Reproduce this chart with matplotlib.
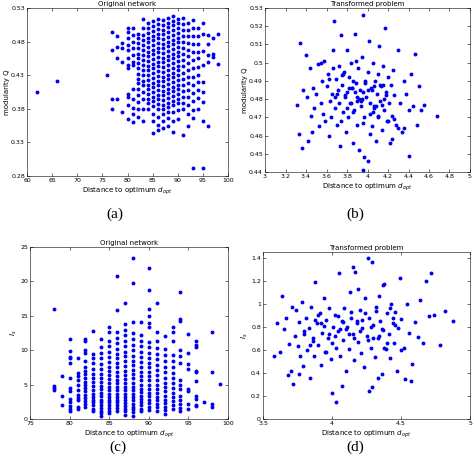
import matplotlib.pyplot as plt

# ---- panel (a): original network, modularity Q vs distance (columns of integer x)
a_x = [62, 66, 76, 77, 77, 77, 77, 78, 78, 78, 78, 79, 79, 79, 79, 95, 95, 96, 96, 97, 97, 97, 98, 98, 93, 95]
a_y = [0.405, 0.422, 0.430, 0.495, 0.468, 0.394, 0.379, 0.488, 0.472, 0.455, 0.395,
       0.478, 0.470, 0.450, 0.375, 0.508, 0.491, 0.490, 0.477, 0.485, 0.462, 0.457, 0.491, 0.446, 0.292, 0.292]
a_cols = {
    80: [0.500, 0.495, 0.485, 0.475, 0.468, 0.455, 0.445, 0.440, 0.402, 0.398, 0.385, 0.365],
    81: [0.500, 0.490, 0.480, 0.470, 0.460, 0.450, 0.445, 0.410, 0.395, 0.381, 0.372, 0.360],
    82: [0.492, 0.485, 0.478, 0.470, 0.462, 0.455, 0.448, 0.440, 0.432, 0.425, 0.418, 0.410, 0.400, 0.390, 0.380, 0.368],
    83: [0.514, 0.500, 0.490, 0.482, 0.475, 0.468, 0.460, 0.452, 0.445, 0.437, 0.430, 0.422, 0.415, 0.405, 0.395, 0.380, 0.362],
    84: [0.508, 0.500, 0.493, 0.486, 0.479, 0.472, 0.465, 0.458, 0.451, 0.444, 0.437, 0.430, 0.423, 0.416, 0.409, 0.402, 0.395, 0.388, 0.380],
    85: [0.510, 0.503, 0.496, 0.489, 0.482, 0.475, 0.468, 0.461, 0.454, 0.447, 0.440, 0.433, 0.426, 0.419, 0.412, 0.405, 0.398, 0.391, 0.384, 0.372, 0.362, 0.344],
    86: [0.513, 0.506, 0.499, 0.492, 0.485, 0.478, 0.471, 0.464, 0.457, 0.450, 0.443, 0.436, 0.429, 0.422, 0.415, 0.408, 0.401, 0.394, 0.387, 0.380, 0.368, 0.356, 0.349],
    87: [0.512, 0.505, 0.498, 0.491, 0.484, 0.477, 0.470, 0.463, 0.456, 0.449, 0.442, 0.435, 0.428, 0.421, 0.414, 0.407, 0.400, 0.393, 0.386, 0.379, 0.372, 0.362, 0.352],
    88: [0.515, 0.508, 0.501, 0.494, 0.487, 0.480, 0.473, 0.466, 0.459, 0.452, 0.445, 0.438, 0.431, 0.424, 0.417, 0.410, 0.403, 0.396, 0.389, 0.382, 0.375, 0.366, 0.355],
    89: [0.518, 0.511, 0.504, 0.497, 0.490, 0.483, 0.476, 0.469, 0.462, 0.455, 0.448, 0.441, 0.434, 0.427, 0.420, 0.413, 0.406, 0.399, 0.392, 0.385, 0.375, 0.362, 0.346],
    90: [0.514, 0.507, 0.500, 0.493, 0.486, 0.479, 0.472, 0.465, 0.458, 0.451, 0.444, 0.437, 0.430, 0.423, 0.416, 0.409, 0.402, 0.395, 0.388, 0.378, 0.365],
    91: [0.515, 0.506, 0.497, 0.488, 0.479, 0.470, 0.461, 0.452, 0.443, 0.434, 0.425, 0.416, 0.407, 0.398, 0.389, 0.380, 0.341],
    92: [0.508, 0.498, 0.488, 0.478, 0.468, 0.458, 0.448, 0.438, 0.428, 0.418, 0.408, 0.398, 0.386, 0.372, 0.355],
    93: [0.512, 0.500, 0.488, 0.476, 0.464, 0.452, 0.440, 0.428, 0.416, 0.404, 0.392, 0.378, 0.366],
    94: [0.500, 0.488, 0.476, 0.465, 0.455, 0.442, 0.430, 0.420, 0.408, 0.396, 0.380],
    95: [0.466, 0.445, 0.420, 0.405, 0.390, 0.362],
    96: [0.460, 0.450, 0.355],
}

# ---- panel (b): transformed problem, modularity Q vs distance
b_x = [3.31, 3.33, 3.34, 3.36, 3.37, 3.40, 3.41, 3.42, 3.44, 3.45, 3.46, 3.47, 3.48, 3.50, 3.52, 3.53, 3.55, 3.55, 3.56, 3.57,
       3.58, 3.59, 3.60, 3.61, 3.62, 3.63, 3.64, 3.65, 3.66, 3.67, 3.68, 3.69, 3.70, 3.71, 3.72, 3.73, 3.74, 3.75, 3.76, 3.77,
       3.78, 3.79, 3.80, 3.80, 3.81, 3.82, 3.83, 3.84, 3.85, 3.86, 3.87, 3.88, 3.89, 3.90, 3.90, 3.91, 3.92, 3.93, 3.94, 3.95,
       3.96, 3.97, 3.98, 3.99, 4.00, 4.00, 4.01, 4.02, 4.03, 4.04, 4.05, 4.06, 4.07, 4.08, 4.09, 4.10, 4.10, 4.11, 4.12, 4.13,
       4.14, 4.15, 4.16, 4.17, 4.18, 4.19, 4.20, 4.21, 4.22, 4.23, 4.24, 4.25, 4.26, 4.28, 4.30, 4.32, 4.34, 4.36, 4.38, 4.40,
       4.42, 4.44, 4.46, 4.48, 4.50, 4.52, 4.55, 4.68, 3.75, 3.85, 3.95, 4.05, 4.15, 3.72, 3.88, 3.98, 4.08, 4.18, 3.82, 3.92,
       4.02, 4.12, 3.78, 3.86, 3.94, 4.04, 4.14, 3.68, 3.76, 3.84, 3.96, 4.06, 4.16, 4.26, 3.62, 3.70, 3.80, 3.90, 4.00, 4.10,
       4.20, 4.30, 3.66, 3.74, 3.86, 3.96, 4.06, 4.24, 4.36, 3.96, 3.97, 4.40, 4.02, 3.89]
b_y = [0.477, 0.461, 0.511, 0.453, 0.485, 0.504, 0.481, 0.457, 0.497, 0.471, 0.462, 0.486, 0.475, 0.483, 0.499, 0.465, 0.500, 0.478,
       0.490, 0.472, 0.501, 0.468, 0.487, 0.494, 0.460, 0.479, 0.470, 0.483, 0.507, 0.523, 0.475, 0.491, 0.466, 0.485, 0.498, 0.454,
       0.515, 0.488, 0.473, 0.495, 0.481, 0.462, 0.507, 0.484, 0.470, 0.492, 0.478, 0.500, 0.486, 0.456, 0.474, 0.516, 0.489, 0.481,
       0.466, 0.497, 0.452, 0.485, 0.476, 0.503, 0.526, 0.470, 0.489, 0.481, 0.495, 0.446, 0.512, 0.478, 0.486, 0.465, 0.500, 0.475,
       0.490, 0.457, 0.483, 0.494, 0.470, 0.509, 0.479, 0.487, 0.463, 0.498, 0.474, 0.519, 0.484, 0.468, 0.492, 0.478, 0.456, 0.488,
       0.471, 0.496, 0.482, 0.466, 0.507, 0.478, 0.462, 0.490, 0.483, 0.474, 0.494, 0.476, 0.505, 0.466, 0.487, 0.474, 0.477, 0.471,
       0.493, 0.486, 0.480, 0.473, 0.488, 0.478, 0.484, 0.490, 0.476, 0.482, 0.486, 0.480, 0.472, 0.488, 0.482, 0.490, 0.479, 0.485,
       0.477, 0.481, 0.494, 0.478, 0.484, 0.476, 0.480, 0.469, 0.491, 0.483, 0.475, 0.479, 0.485, 0.471, 0.468, 0.464, 0.497, 0.468,
       0.473, 0.467, 0.487, 0.458, 0.464, 0.441, 0.448, 0.449, 0.461, 0.501]

# ---- panel (c): original network, I_s vs distance (columns of integer x)
c_cols = {
    78: [16.0, 4.8, 4.5, 4.2],
    79: [6.2, 3.4, 2.0],
    80: [11.7, 9.9, 9.0, 8.8, 8.2, 5.9, 4.5, 4.0, 2.9, 2.4, 1.9, 1.4, 1.1],
    81: [8.9, 6.7, 6.3, 5.7, 5.0, 4.2, 3.5, 3.1, 2.8, 1.7, 1.5],
    82: [11.6, 11.3, 10.1, 9.6, 8.4, 7.6, 7.0, 6.5, 6.0, 5.4, 4.9, 4.5, 4.0, 3.5, 3.0, 2.6, 2.2, 1.8],
    83: [12.8, 9.4, 8.9, 8.1, 7.3, 6.6, 6.0, 5.4, 4.8, 4.2, 3.7, 3.2, 2.8, 2.4, 2.0, 1.5, 1.2],
    84: [11.7, 10.4, 9.6, 8.8, 8.0, 7.3, 6.6, 6.0, 5.4, 4.8, 4.3, 3.8, 3.3, 2.8, 2.4, 2.0, 1.6, 1.2, 0.8, 0.5],
    85: [13.4, 12.7, 11.3, 10.6, 9.8, 9.0, 8.3, 7.6, 7.0, 6.4, 5.8, 5.2, 4.7, 4.2, 3.7, 3.2, 2.8, 2.4, 2.0, 1.6, 1.2, 0.8],
    86: [20.8, 15.8, 12.6, 11.8, 11.0, 10.2, 9.5, 8.8, 8.1, 7.5, 6.9, 6.3, 5.7, 5.2, 4.7, 4.2, 3.7, 3.2, 2.8, 2.4, 2.0, 1.6, 1.2],
    87: [16.8, 13.8, 13.0, 12.2, 11.4, 10.6, 9.8, 9.1, 8.4, 7.7, 7.0, 6.4, 5.8, 5.2, 4.7, 4.2, 3.7, 3.2, 2.7, 2.3, 1.9, 1.5, 1.1, 0.6],
    88: [23.4, 19.7, 14.1, 12.5, 11.6, 10.8, 10.0, 9.2, 8.5, 7.8, 7.1, 6.5, 5.9, 5.3, 4.7, 4.2, 3.7, 3.2, 2.7, 2.2, 1.8, 1.4, 1.0, 0.4],
    89: [14.1, 12.2, 11.4, 10.6, 9.8, 9.0, 8.3, 7.6, 6.9, 6.2, 5.6, 5.0, 4.4, 3.9, 3.4, 2.9, 2.4, 2.0, 1.5, 1.1],
    90: [22.0, 18.8, 16.0, 14.9, 14.0, 13.4, 11.2, 10.4, 9.6, 8.9, 8.2, 7.5, 6.8, 6.2, 5.6, 5.0, 4.4, 3.8, 3.3, 2.8, 2.3, 1.8, 1.3],
    91: [16.8, 12.6, 11.3, 10.3, 9.5, 8.7, 7.9, 7.1, 6.4, 5.7, 5.0, 4.4, 3.8, 3.2, 2.7, 2.2, 1.7, 1.2],
    92: [12.0, 10.2, 9.3, 8.4, 7.6, 6.8, 6.0, 5.3, 4.6, 4.0, 3.4, 2.8, 2.3, 1.8, 1.3, 0.7],
    93: [13.3, 12.7, 11.4, 9.3, 8.4, 7.5, 6.7, 5.9, 5.2, 4.5, 3.8, 3.2, 2.6, 2.1, 1.5],
    94: [18.4, 14.6, 14.3, 10.1, 9.2, 8.2, 5.6, 4.9, 4.3, 3.4, 2.8, 2.2, 1.6, 1.2],
    95: [12.4, 9.6, 8.0, 7.2, 4.3, 4.1, 2.2, 1.5],
    96: [11.4, 10.8, 10.4, 7.0, 6.9, 5.5, 3.3, 2.9, 2.0, 1.9],
    97: [2.5],
    98: [12.6, 6.8, 2.2, 1.8],
    99: [5.1],
}

# ---- panel (d): transformed problem, I_s vs distance
d_x = [3.58, 3.60, 3.62, 3.64, 3.65, 3.67, 3.68, 3.69, 3.70, 3.71, 3.72, 3.73, 3.74, 3.75, 3.76, 3.77, 3.78, 3.79, 3.80, 3.81,
       3.82, 3.83, 3.84, 3.85, 3.86, 3.87, 3.88, 3.89, 3.90, 3.91, 3.92, 3.93, 3.94, 3.95, 3.96, 3.97, 3.98, 3.99, 4.00, 4.01,
       4.02, 4.03, 4.04, 4.05, 4.06, 4.07, 4.08, 4.09, 4.10, 4.11, 4.12, 4.13, 4.14, 4.15, 4.16, 4.17, 4.18, 4.19, 4.20, 4.21,
       4.22, 4.23, 4.24, 4.25, 4.26, 4.27, 4.28, 4.29, 4.30, 4.31, 4.32, 4.33, 4.34, 4.35, 4.36, 4.37, 4.38, 4.39, 4.40, 4.41,
       4.42, 4.43, 4.44, 4.45, 4.46, 4.47, 4.48, 4.49, 4.50, 4.52, 4.54, 4.56, 4.58, 4.60, 4.62, 4.64, 4.66, 4.68, 4.70, 4.72,
       4.74, 4.78, 4.82, 4.88, 3.80, 3.86, 3.92, 3.98, 4.04, 4.10, 4.16, 4.22, 4.28, 4.34, 4.40, 4.46, 3.84, 3.90, 3.96, 4.02,
       4.08, 4.14, 4.20, 4.26, 4.32, 4.38, 4.44, 4.50, 3.88, 3.94, 4.00, 4.06, 4.12, 4.18, 4.24, 4.30, 4.36, 4.42, 3.76, 4.03,
       4.07, 4.27, 4.29, 4.15, 4.19, 4.33, 4.37, 4.53, 4.57]
d_y = [0.55, 0.83, 0.58, 1.07, 0.78, 0.88, 0.38, 0.65, 0.42, 0.97, 0.30, 0.72, 0.95, 0.63, 0.84, 0.55, 1.02, 0.46, 0.74, 0.88,
       0.60, 0.79, 0.36, 0.97, 0.70, 0.55, 1.19, 0.83, 0.64, 0.92, 0.47, 0.75, 1.05, 0.58, 0.86, 0.70, 0.96, 0.52, 0.23, 0.80,
       0.90, 0.62, 0.76, 1.27, 0.55, 0.85, 0.69, 0.96, 0.42, 0.80, 0.61, 1.10, 0.88, 0.74, 0.51, 1.28, 0.83, 0.67, 0.95, 0.57,
       0.79, 0.45, 1.05, 0.72, 1.40, 0.88, 0.62, 1.36, 0.82, 0.54, 0.97, 0.70, 1.07, 0.85, 0.39, 0.77, 1.17, 0.61, 0.92, 0.74,
       0.53, 1.00, 0.83, 0.66, 0.93, 0.42, 0.79, 1.22, 0.87, 0.62, 1.00, 0.75, 0.48, 0.84, 0.71, 1.03, 0.66, 1.20, 0.89, 1.27,
       0.90, 0.64, 0.94, 0.85, 0.76, 0.68, 0.83, 0.74, 0.89, 0.78, 0.70, 0.86, 0.80, 0.72, 0.66, 0.82, 0.64, 0.90, 0.58, 0.72,
       0.84, 0.93, 0.76, 0.69, 0.94, 0.62, 0.88, 0.60, 0.86, 0.81, 0.66, 0.78, 0.74, 0.85, 0.92, 0.70, 0.78, 0.96, 0.39, 0.15,
       0.29, 0.24, 0.28, 1.32, 1.13, 0.36, 1.16, 0.35, 0.33]


def expand(cols):
    xs, ys = [], []
    for k, vals in cols.items():
        xs += [k] * len(vals)
        ys += vals
    return xs, ys


plt.rcParams['font.family'] = 'DejaVu Sans'
plt.rcParams['font.size'] = 4.5
fig = plt.figure(figsize=(4.74, 4.68), dpi=100)


def setup(ax, title, ylabel):
    ax.set_title(title, fontsize=5, pad=1.5)
    ax.set_xlabel('Distance to optimum $d_{opt}$', fontsize=5, labelpad=1.5)
    ax.set_ylabel(ylabel, fontsize=5, labelpad=1)
    ax.tick_params(direction='in', length=2, width=0.4, pad=1.5, labelsize=4.5, top=True, right=True)
    for s in ax.spines.values():
        s.set_linewidth(0.4)


ms = 2.8
col = '#0000ee'

ax1 = fig.add_axes([27 / 474, 1 - 176 / 468, 201 / 474, 168 / 468])
x, y = expand(a_cols)
ax1.plot(x + a_x, y + a_y, 'o', color=col, ms=ms, mew=0)
ax1.set_xlim(60, 100)
ax1.set_ylim(0.28, 0.53)
ax1.set_yticks([0.28, 0.33, 0.38, 0.43, 0.48, 0.53])
setup(ax1, 'Original network', 'modularity Q')

ax2 = fig.add_axes([265 / 474, 1 - 172 / 468, 205 / 474, 164 / 468])
ax2.plot(b_x, b_y, 'o', color=col, ms=ms, mew=0)
ax2.set_xlim(3, 5)
ax2.set_ylim(0.44, 0.53)
ax2.set_xticks([3, 3.2, 3.4, 3.6, 3.8, 4, 4.2, 4.4, 4.6, 4.8, 5])
ax2.set_xticklabels(['3', '3.2', '3.4', '3.6', '3.8', '4', '4.2', '4.4', '4.6', '4.8', '5'])
ax2.set_yticks([0.44, 0.45, 0.46, 0.47, 0.48, 0.49, 0.5, 0.51, 0.52, 0.53])
ax2.set_yticklabels(['0.44', '0.45', '0.46', '0.47', '0.48', '0.49', '0.5', '0.51', '0.52', '0.53'])
setup(ax2, 'Transformed problem', 'modularity Q')

ax3 = fig.add_axes([30 / 474, 1 - 419 / 468, 198 / 474, 172 / 468])
x, y = expand(c_cols)
ax3.plot(x, y, 'o', color=col, ms=ms, mew=0)
ax3.set_xlim(75, 100)
ax3.set_ylim(0, 25)
setup(ax3, 'Original network', '$I_s$')

ax4 = fig.add_axes([263 / 474, 1 - 419 / 468, 207 / 474, 167 / 468])
ax4.plot(d_x, d_y, 'o', color=col, ms=ms, mew=0)
ax4.set_xlim(3.5, 5)
ax4.set_ylim(0, 1.45)
ax4.set_xticks([3.5, 4, 4.5, 5])
ax4.set_xticklabels(['3.5', '4', '4.5', '5'])
ax4.set_yticks([0, 0.2, 0.4, 0.6, 0.8, 1, 1.2, 1.4])
ax4.set_yticklabels(['0', '0.2', '0.4', '0.6', '0.8', '1', '1.2', '1.4'])
setup(ax4, 'Transformed problem', '$I_s$')

for lab, xp, yp in [('(a)', 115, 214), ('(b)', 355, 214), ('(c)', 118, 447), ('(d)', 355, 447)]:
    fig.text(xp / 474, 1 - yp / 468, lab, fontsize=11, family='Liberation Serif', ha='center', va='center')

fig.savefig('out.png', dpi=100)
